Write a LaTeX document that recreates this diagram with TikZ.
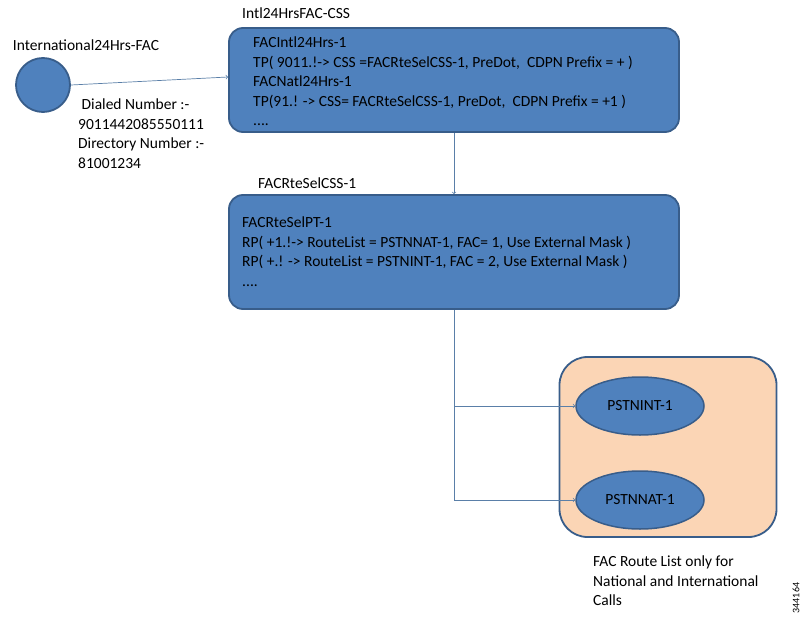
\documentclass[tikz,border=0pt]{standalone}
\usepackage{fontspec}
\setmainfont{Carlito}
\usetikzlibrary{arrows,positioning,shapes.geometric}
\definecolor{boxfill}{HTML}{4F81BD}
\definecolor{boxline}{HTML}{385D8A}
\definecolor{peach}{HTML}{FBD5B5}
\definecolor{wire}{HTML}{5A7FA8}
\tikzset{
  blue box/.style={draw=boxline,line width=1.8pt,fill=boxfill,rounded corners=14pt},
  route/.style={draw=boxline,line width=1.5pt,fill=boxfill,ellipse},
  wire/.style={draw=wire,line width=0.7pt,>=to},
  lbl/.style={font=\fontsize{15.5}{19.5}\selectfont,inner sep=0pt},
}
\begin{document}
\begin{tikzpicture}[x=1pt,y=-1pt]
\useasboundingbox (0,0) rectangle (806,618);
% calling party
\node[draw=boxline,line width=1.8pt,fill=boxfill,circle,minimum size=54pt] (fac) at (43,85) {};
\node[lbl] (facname) at (86,45) {International24Hrs-FAC};
\node[lbl,align=left,anchor=north west] (dn) at (78,99) {\ Dialed Number :-\\9011442085550111\\Directory Number :-\\81001234};
% first css
\node[blue box,minimum width=450pt,minimum height=104pt] (css) at (454,80) {};
\node[lbl,anchor=west] (cssname) at (242,13) {Intl24HrsFAC-CSS};
\node[lbl,align=left,anchor=north west] at (253,37) {FACIntl24Hrs-1\\TP( 9011.!-> CSS =FACRteSelCSS-1, PreDot,\ \ CDPN Prefix = + )\\FACNatl24Hrs-1\\TP(91.! -> CSS= FACRteSelCSS-1, PreDot,\ \ CDPN Prefix = +1 )\\....};
% second css
\node[blue box,minimum width=450pt,minimum height=114pt] (sel) at (454,252) {};
\node[lbl,anchor=west] (selname) at (258,183) {FACRteSelCSS-1};
\node[lbl,align=left,anchor=north west] at (242,217) {FACRteSelPT-1\\RP( +1.!-> RouteList = PSTNNAT-1, FAC= 1, Use External Mask )\\RP( +.! -> RouteList = PSTNINT-1, FAC = 2, Use External Mask )\\....};
% route list
\node[draw=boxline,line width=1.8pt,fill=peach,rounded corners=28pt,minimum width=217pt,minimum height=180pt] (rl) at (668,447) {};
\node[route,minimum width=128pt,minimum height=58pt,lbl] (int) at (640,406) {PSTNINT-1};
\node[route,minimum width=128pt,minimum height=58pt,lbl] (nat) at (640,500) {PSTNNAT-1};
\node[lbl,align=left,anchor=north west] (cap) at (593,556) {FAC Route List only for\\National and International\\Calls};
\node[font=\fontsize{10}{11}\selectfont,rotate=90] at (796,598) {344164};
% connectors
\draw[wire,->] (fac.east) -- (css.west |- 0,77);
\draw[wire,->] (css.south) -- (sel.north);
\coordinate (split) at (sel.south |- int.west);
\draw[wire,->] (sel.south) -- (split) -- (int.west);
\draw[wire,->] (split) |- (nat.west);
\end{tikzpicture}
\end{document}
